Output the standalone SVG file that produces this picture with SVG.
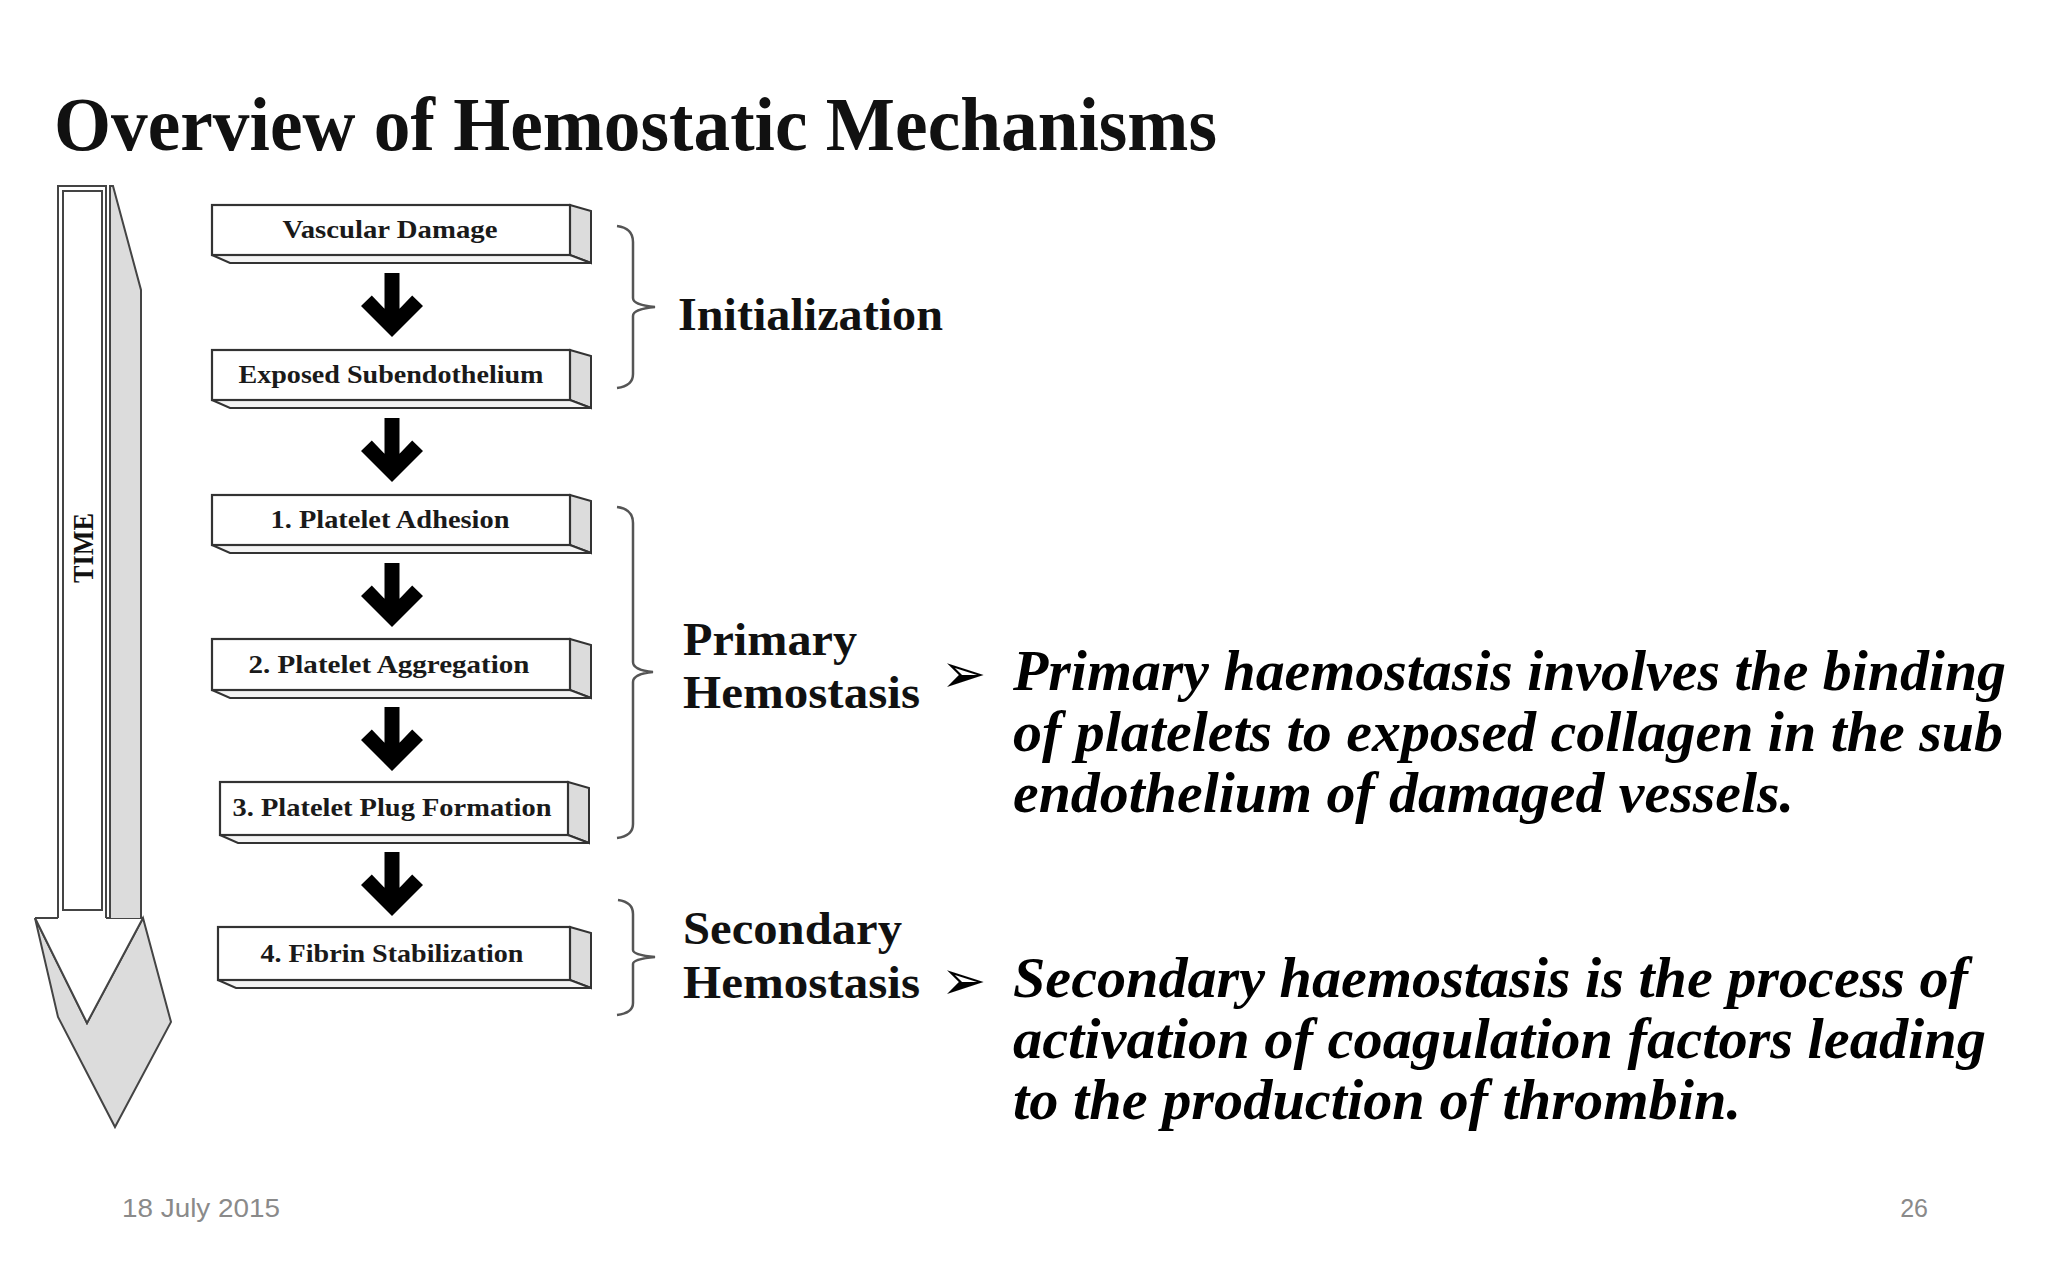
<svg xmlns="http://www.w3.org/2000/svg" width="2048" height="1266" viewBox="0 0 2048 1266">
<defs>
<style>
.title{font-family:"Liberation Serif",serif;font-weight:bold;font-size:77px;fill:#111}
.bx{fill:#fff;stroke:#333;stroke-width:2.2}
.side{fill:#dcdcdc;stroke:#333;stroke-width:2}
.bot{fill:#f4f4f4;stroke:#333;stroke-width:2}
.bt{font-family:"Liberation Serif",serif;font-weight:bold;font-size:26px;fill:#1a1a1a;text-anchor:middle}
.lab{font-family:"Liberation Serif",serif;font-weight:bold;font-size:47px;fill:#111}
.brace{fill:none;stroke:#555;stroke-width:2.5}
.body{font-family:"Liberation Serif",serif;font-weight:bold;font-style:italic;font-size:56px;fill:#000}
.bul{font-family:"DejaVu Sans",sans-serif;font-size:54px;fill:#000}
.foot{font-family:"Liberation Sans",sans-serif;font-size:25px;fill:#8a8a8a}
.ln{fill:none;stroke:#444;stroke-width:2}
</style>
<polygon id="arr" points="0,64 -31,33 -20.2,22.6 -7.5,35.7 -7.5,0 7.5,0 7.5,35.7 20.2,22.6 31,33" fill="#000"/>
</defs>
<rect width="2048" height="1266" fill="#fff"/>

<text class="title" x="54" y="150" textLength="1163" lengthAdjust="spacingAndGlyphs">Overview of Hemostatic Mechanisms</text>

<g id="time-arrow">
  <polygon points="35,918 58,1017 115,1127 171,1022 143,918 87,1023" fill="#dcdcdc" stroke="#444" stroke-width="2"/>
  <polygon points="35,918 143,918 87,1023" fill="#fff"/>
  <path class="ln" d="M35,918 L87,1023 L143,918 M35,918 H58 M106,918 H143"/>
  <rect x="58" y="186" width="48" height="732" fill="#fff"/>
  <polygon points="110,186 113,186 141,290 141,918 110,918" fill="#dcdcdc"/>
  <path class="ln" d="M58,918 V186 H106 V918 M110,918 V186 H113 L141,290 V918"/>
  <rect x="63" y="191" width="39" height="719" fill="none" stroke="#444" stroke-width="2"/>
  <text transform="translate(93,548) rotate(-90)" text-anchor="middle" font-family="Liberation Serif, serif" font-weight="bold" font-size="29" fill="#111" textLength="70" lengthAdjust="spacingAndGlyphs">TIME</text>
</g>

<g id="n1">
  <polygon class="side" points="570,205 591,211 591,263 570,255"/>
  <polygon class="bot" points="212,255 570,255 591,263 230,263"/>
  <rect class="bx" x="212" y="205" width="358" height="50"/>
  <text class="bt" x="390" y="238" textLength="215" lengthAdjust="spacingAndGlyphs">Vascular Damage</text>
</g>
<g id="n2">
  <polygon class="side" points="570,350 591,356 591,408 570,400"/>
  <polygon class="bot" points="212,400 570,400 591,408 230,408"/>
  <rect class="bx" x="212" y="350" width="358" height="50"/>
  <text class="bt" x="391" y="383" textLength="305" lengthAdjust="spacingAndGlyphs">Exposed Subendothelium</text>
</g>
<g id="n3">
  <polygon class="side" points="570,495 591,501 591,553 570,545"/>
  <polygon class="bot" points="212,545 570,545 591,553 230,553"/>
  <rect class="bx" x="212" y="495" width="358" height="50"/>
  <text class="bt" x="390" y="528" textLength="239" lengthAdjust="spacingAndGlyphs">1. Platelet Adhesion</text>
</g>
<g id="n4">
  <polygon class="side" points="570,639 591,645 591,698 570,690"/>
  <polygon class="bot" points="212,690 570,690 591,698 230,698"/>
  <rect class="bx" x="212" y="639" width="358" height="51"/>
  <text class="bt" x="389" y="673" textLength="281" lengthAdjust="spacingAndGlyphs">2. Platelet Aggregation</text>
</g>
<g id="n5">
  <polygon class="side" points="568,782 589,788 589,843 568,835"/>
  <polygon class="bot" points="220,835 568,835 589,843 238,843"/>
  <rect class="bx" x="220" y="782" width="348" height="53"/>
  <text class="bt" x="392" y="816" textLength="319" lengthAdjust="spacingAndGlyphs">3. Platelet Plug Formation</text>
</g>
<g id="n6">
  <polygon class="side" points="570,927 591,933 591,988 570,980"/>
  <polygon class="bot" points="218,980 570,980 591,988 236,988"/>
  <rect class="bx" x="218" y="927" width="352" height="53"/>
  <text class="bt" x="392" y="962" textLength="263" lengthAdjust="spacingAndGlyphs">4. Fibrin Stabilization</text>
</g>

<g id="connectors">
  <use href="#arr" x="392" y="273"/>
  <use href="#arr" x="392" y="418"/>
  <use href="#arr" x="392" y="563"/>
  <use href="#arr" x="392" y="707"/>
  <use href="#arr" x="392" y="852"/>
</g>

<g id="braces">
  <path class="brace" d="M617,226 Q633,228 633,242 L633,298 Q633,305 655,307 Q633,309 633,316 L633,374 Q633,386 617,388"/>
  <path class="brace" d="M617,507 Q633,509 633,523 L633,662 Q633,670 653,672 Q633,674 633,682 L633,824 Q633,836 617,838"/>
  <path class="brace" d="M618,900 Q633,902 633,914 L633,950 Q633,955 655,957 Q633,959 633,964 L633,1003 Q633,1013 617,1015"/>
</g>

<g id="labels">
  <text class="lab" x="678" y="330" textLength="265" lengthAdjust="spacingAndGlyphs">Initialization</text>
  <text class="lab" x="683" y="655" textLength="174" lengthAdjust="spacingAndGlyphs">Primary</text>
  <text class="lab" x="683" y="708" textLength="237" lengthAdjust="spacingAndGlyphs">Hemostasis</text>
  <text class="lab" x="683" y="944" textLength="219" lengthAdjust="spacingAndGlyphs">Secondary</text>
  <text class="lab" x="683" y="998" textLength="237" lengthAdjust="spacingAndGlyphs">Hemostasis</text>
</g>

<g id="bullets">
  <text class="bul" x="941" y="692">➢</text>
  <text class="body" x="1013" y="690" textLength="993" lengthAdjust="spacingAndGlyphs">Primary haemostasis involves the binding</text>
  <text class="body" x="1013" y="751" textLength="990" lengthAdjust="spacingAndGlyphs">of platelets to exposed collagen in the sub</text>
  <text class="body" x="1013" y="812" textLength="781" lengthAdjust="spacingAndGlyphs">endothelium of damaged vessels.</text>
  <text class="bul" x="941" y="999">➢</text>
  <text class="body" x="1013" y="997" textLength="955" lengthAdjust="spacingAndGlyphs">Secondary haemostasis is the process of</text>
  <text class="body" x="1013" y="1058" textLength="973" lengthAdjust="spacingAndGlyphs">activation of coagulation factors leading</text>
  <text class="body" x="1013" y="1119" textLength="728" lengthAdjust="spacingAndGlyphs">to the production of thrombin.</text>
</g>

<text class="foot" x="122" y="1217" textLength="158" lengthAdjust="spacingAndGlyphs">18 July 2015</text>
<text class="foot" x="1928" y="1217" text-anchor="end">26</text>
</svg>
